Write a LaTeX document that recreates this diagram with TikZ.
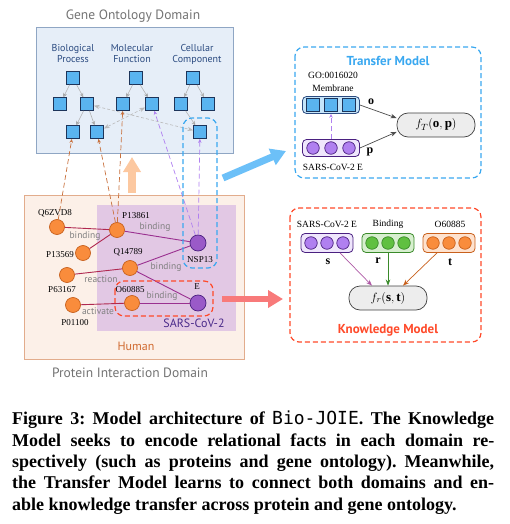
\documentclass[tikz,border=0pt]{standalone}
\usepackage{fontspec}
\setmainfont{Liberation Serif}
\newfontfamily\labelfont{PT Sans}
\newfontfamily\codefont{DejaVu Sans Mono}
\usetikzlibrary{positioning,arrows.meta}

\definecolor{goblue}{HTML}{5AB4F0}
\definecolor{gofill}{HTML}{E6EEF8}
\definecolor{goedge}{HTML}{8FA6C4}
\definecolor{goink}{HTML}{2A4A80}
\definecolor{humfill}{HTML}{FCF0E8}
\definecolor{humedge}{HTML}{E2AC8C}
\definecolor{humink}{HTML}{D06A30}
\definecolor{covfill}{HTML}{E2C8E4}
\definecolor{covink}{HTML}{4A2A8A}
\definecolor{protfill}{HTML}{F98C3C}
\definecolor{protedge}{HTML}{C8601C}
\definecolor{virfill}{HTML}{9A5AC8}
\definecolor{viredge}{HTML}{4A2080}
\definecolor{linkred}{HTML}{B02850}
\definecolor{linkpurple}{HTML}{9A3090}
\definecolor{tmblue}{HTML}{3AA8F0}
\definecolor{kmred}{HTML}{FF4A2A}
\definecolor{arrowblue}{HTML}{6CC0F8}
\definecolor{arrowred}{HTML}{F87A7A}
\definecolor{arrowpeach}{HTML}{FCC8A0}
\definecolor{annobrown}{HTML}{C8703C}
\definecolor{annopurple}{HTML}{B080F0}
\definecolor{vecgreen}{HTML}{60C040}
\definecolor{vecgreenedge}{HTML}{3A8A2A}

\begin{document}
\begin{tikzpicture}[%
    x=1pt,
    y=-1pt,
    >=Stealth,
    term/.style={%
      draw=goink!70!black,
      fill=goblue,
      minimum size=13pt,
      inner sep=0pt,
      line width=0.8pt
    },
    isa/.style={-{Stealth[length=4pt,width=4pt]}, draw=gray!60, line width=0.6pt},
    xref/.style={<->, draw=gray!55, dash pattern=on 3pt off 2pt, line width=0.6pt},
    protein/.style={%
      circle,
      draw=protedge,
      fill=protfill,
      minimum size=15pt,
      inner sep=0pt,
      line width=0.7pt
    },
    virus/.style={protein, draw=viredge, fill=virfill, minimum size=16pt},
    pname/.style={font=\fontsize{9}{9}\selectfont, inner sep=0pt},
    rel/.style={font=\labelfont\fontsize{9.5}{10}\selectfont, text=gray, inner sep=0pt},
    hlink/.style={draw=linkred, line width=0.9pt},
    vlink/.style={draw=linkpurple, line width=0.9pt},
    anno/.style={dash pattern=on 5pt off 3pt, line width=0.7pt, -{Stealth[length=4pt,width=3.5pt]}},
    title/.style={font=\labelfont\fontsize{13.5}{14}\selectfont},
    frame/.style={dash pattern=on 5pt off 3pt, line width=1.2pt, rounded corners=9pt},
    vecbox/.style={%
      rectangle,
      rounded corners=4pt,
      minimum width=57pt,
      minimum height=17pt,
      line width=0.8pt
    },
    cell/.style={circle, minimum size=12.5pt, inner sep=0pt, line width=0.7pt},
    score/.style={%
      rectangle,
      rounded corners=11pt,
      draw=black!75,
      fill=black!7,
      minimum width=78pt,
      minimum height=24pt,
      line width=0.7pt
    },
    small/.style={font=\fontsize{9.5}{10}\selectfont, inner sep=0pt},
    bigarrow/.style={-{Triangle[length=15pt,width=17pt]}}
  ]
    \useasboundingbox (0,0) rectangle (510,524);

    % domain boxes
    \fill[gofill] (36,27) rectangle (233,153);
    \draw[goedge, line width=0.9pt] (36,27) rectangle (233,153);
    \node[title, text=black!55] (godomain) at (133,16) {Gene Ontology Domain};
    \fill[humfill] (24,195) rectangle (244,359);
    \draw[humedge, line width=0.9pt] (24,195) rectangle (244,359);
    \fill[covfill] (97,205) rectangle (236,331);
    \node[font=\labelfont\fontsize{12}{12}\selectfont, text=covink] (sars) at (194,323) {SARS-CoV-2};
    \node[font=\labelfont\fontsize{12}{12}\selectfont, text=humink] (human) at (136,346) {Human};
    \node[title, text=black!55] (ppidomain) at (130,373) {Protein Interaction Domain};

    % gene ontology
    \node[font=\labelfont\fontsize{10}{11}\selectfont, text=goink, align=center] (bpname) at (73,54) {Biological\\Process};
    \node[font=\labelfont\fontsize{10}{11}\selectfont, text=goink, align=center] (mfname) at (132,54) {Molecular\\Function};
    \node[font=\labelfont\fontsize{10}{11}\selectfont, text=goink, align=center] (ccname) at (197,54) {Cellular\\Component};
    \node[term] (bp)   at (73,78)   {};
    \node[term] (bp1)  at (60,104)  {};
    \node[term] (bp2)  at (87,104)  {};
    \node[term] (bp21) at (73,132)  {};
    \node[term] (bp22) at (97,132)  {};
    \node[term] (mf)   at (136,78)  {};
    \node[term] (mf1)  at (123,104) {};
    \node[term] (mf2)  at (152,104) {};
    \node[term] (cc)   at (193,78)  {};
    \node[term] (cc1)  at (181,104) {};
    \node[term] (cc2)  at (208,104) {};
    \node[term] (cc11) at (200,132) {};

    \path[isa] (bp) edge (bp1)
               (bp) edge (bp2)
               (bp2) edge (bp21)
               (bp2) edge (bp22)
               (mf) edge (mf1)
               (mf) edge (mf2)
               (cc) edge (cc1)
               (cc) edge (cc2)
               (cc1) edge (cc11);
    \draw[xref] (bp2) -- (cc11);
    \draw[xref] (mf2) -- (bp22);

    % proteins
    \node[protein] (q6zvd8) at (57,227)  {};
    \node[protein] (p13861) at (117,230) {};
    \node[protein] (p13569) at (83,253)  {};
    \node[protein] (p63167) at (67,275)  {};
    \node[protein] (q14789) at (130,268) {};
    \node[protein] (o60885) at (132,303) {};
    \node[protein] (p01100) at (73,305)  {};
    \node[virus]   (nsp13)  at (198,243) {};
    \node[virus]   (e)      at (198,303) {};

    \node[pname] at (55,213)  {Q6ZVD8};
    \node[pname] at (136,216) {P13861};
    \node[pname] at (60,255)  {P13569};
    \node[pname] at (128,252) {Q14789};
    \node[pname] at (62,290)  {P63167};
    \node[pname] at (130,290) {O60885};
    \node[pname] at (75,323)  {P01100};
    \node[pname] at (200,260) {NSP13};
    \node[pname] at (197,287) {E};

    \draw[hlink] (q6zvd8) -- (p13861);
    \draw[hlink] (p13569) -- (p13861);
    \draw[hlink] (p63167) -- (q14789);
    \draw[hlink] (p01100) -- (o60885);
    \draw[vlink] (p13861) -- (nsp13);
    \draw[vlink] (q14789) -- (nsp13);
    \draw[vlink] (q14789) -- (e);
    \draw[vlink] (o60885) -- (e);

    \node[rel] at (85,236)  {binding};
    \node[rel] at (155,227) {binding};
    \node[rel] at (101,279) {reaction};
    \node[rel] at (166,267) {binding};
    \node[rel] at (162,296) {binding};
    \node[rel] at (98,311)  {activate};

    % cross-domain annotations
    \draw[anno, annobrown] (q6zvd8) -- (bp21);
    \draw[anno, annobrown] (p13861) -- (bp22);
    \draw[anno, annobrown] (p13861) -- (mf1);
    \draw[anno, annopurple] (nsp13) -- (mf2);
    \draw[anno, annopurple] (nsp13) -- (cc11);

    \draw[frame, tmblue] (183,118) rectangle (217,268);
    \draw[frame, kmred] (115,281) rectangle (213,316);

    % transfer model
    \draw[frame, tmblue] (295,47) rectangle (481,178);
    \node[font=\labelfont\bfseries\fontsize{13}{13}\selectfont, text=tmblue] (tmname) at (388,61) {Transfer Model};
    \node[small] at (333,75) {GO:0016020};
    \node[small] at (333,88) {Membrane};
    \node[vecbox, draw=goink, fill=goblue!35] (ovec) at (331,105) {};
    \foreach \dx in {-18,0,18}
      \node[term, minimum size=12.5pt] at ([xshift=\dx pt]ovec.center) {};
    \node[vecbox, draw=viredge, fill=annopurple!20] (pvec) at (331,148) {};
    \foreach \dx in {-18,0,18}
      \node[cell, draw=viredge, fill=annopurple] at ([xshift=\dx pt]pvec.center) {};
    \node[font=\fontsize{12}{12}\selectfont] at (371,102) {$\mathbf{o}$};
    \node[font=\fontsize{12}{12}\selectfont] at (370,152) {$\mathbf{p}$};
    \node[small] at (333,167) {SARS-CoV-2 E};
    \node[score] (ft) at (436,125) {\fontsize{13}{13}\selectfont$f_T(\mathbf{o},\mathbf{p})$};
    \draw[->, black!70, line width=0.7pt] (ovec.east) -- (ft.170);
    \draw[->, black!70, line width=0.7pt] (pvec.east) -- (ft.190);
    \draw[anno, annopurple] (pvec) -- (ovec);

    % knowledge model
    \draw[frame, kmred] (290,208) rectangle (481,342);
    \node[font=\labelfont\bfseries\fontsize{13}{13}\selectfont, text=kmred] (kmname) at (388,330) {Knowledge Model};
    \node[small] at (327,224) {SARS-CoV-2 E};
    \node[small] at (388,224) {Binding};
    \node[small] at (450,224) {O60885};
    \node[vecbox, minimum width=52pt, minimum height=19pt, draw=viredge, fill=annopurple!20] (svec) at (327,243) {};
    \node[vecbox, minimum width=52pt, minimum height=19pt, draw=vecgreenedge, fill=vecgreen!25] (rvec) at (388,243) {};
    \node[vecbox, minimum width=52pt, minimum height=19pt, draw=protedge, fill=protfill!25] (tvec) at (449,243) {};
    \foreach \dx in {-16,0,16} {
      \node[cell, draw=viredge, fill=annopurple] at ([xshift=\dx pt]svec.center) {};
      \node[cell, draw=vecgreenedge, fill=vecgreen] at ([xshift=\dx pt]rvec.center) {};
      \node[cell, draw=protedge, fill=protfill] at ([xshift=\dx pt]tvec.center) {};
    }
    \node[font=\fontsize{12}{12}\selectfont] at (328,262) {$\mathbf{s}$};
    \node[font=\fontsize{12}{12}\selectfont] at (378,261) {$\mathbf{r}$};
    \node[font=\fontsize{12}{12}\selectfont] at (450,262) {$\mathbf{t}$};
    \node[score] (fr) at (388,298) {\fontsize{13}{13}\selectfont$f_r(\mathbf{s},\mathbf{t})$};
    \draw[->, linkpurple!80, line width=0.7pt] ([xshift=13pt]svec.south) -- ([xshift=-16pt]fr.north);
    \draw[->, vecgreenedge, line width=0.7pt] (rvec) -- (fr);
    \draw[->, protedge, line width=0.7pt] ([xshift=-12pt]tvec.south) -- ([xshift=15pt]fr.north);

    % domain to model arrows
    \coordinate (uptail) at (132,193);
    \coordinate (uphead) at (132,157);
    \coordinate (tmtail) at (223,178);
    \coordinate (tmhead) at (286,151);
    \coordinate (kmtail) at (222,299);
    \coordinate (kmhead) at (283,299);
    \draw[bigarrow, arrowpeach, line width=8pt] (uptail) -- (uphead);
    \draw[bigarrow, arrowblue, line width=7pt] (tmtail) -- (tmhead);
    \draw[bigarrow, arrowred, line width=6.5pt] (kmtail) -- (kmhead);

    % caption
    \node[anchor=north west, inner sep=0pt, align=left,
          font=\bfseries\fontsize{18}{21.3}\selectfont\frenchspacing] (caption) at (12,411) {%
      \makebox[482pt][s]{Figure 3: Model architecture of {\mdseries\codefont Bio-JOIE}. The Knowledge}\\
      \makebox[482pt][s]{Model seeks to encode relational facts in each domain re-}\\
      \makebox[482pt][s]{spectively (such as proteins and gene ontology). Meanwhile,}\\
      \makebox[482pt][s]{the Transfer Model learns to connect both domains and en-}\\
      able knowledge transfer across protein and gene ontology.};
  \end{tikzpicture}
\end{document}
